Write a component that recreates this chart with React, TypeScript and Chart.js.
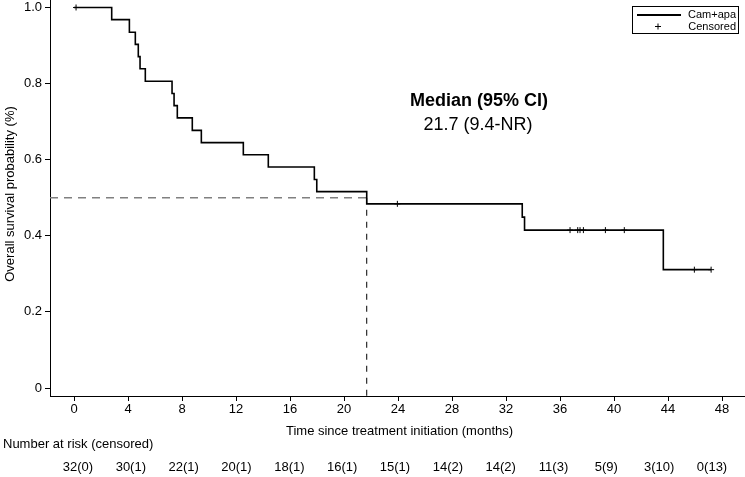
import { useEffect, useRef } from "react";
import { Chart, registerables } from "chart.js";

Chart.register(...registerables);

// ---- Data ----
const stepTimes = [0, 2.79, 4.1, 4.54, 4.76, 4.89, 5.28, 7.26, 7.41, 7.65, 8.76, 9.43, 12.54, 14.39, 17.8, 17.98, 21.68, 33.2, 33.37, 43.65, 47.19];
const stepSurvival = [1, 0.968, 0.935, 0.903, 0.871, 0.839, 0.806, 0.774, 0.742, 0.71, 0.677, 0.645, 0.613, 0.581, 0.548, 0.516, 0.484, 0.449, 0.415, 0.311, 0.311];
const censorTimes = [0.15, 23.95, 36.74, 37.31, 37.48, 37.73, 39.36, 40.76, 45.95, 47.19];
const censorSurvival = [1, 0.484, 0.415, 0.415, 0.415, 0.415, 0.415, 0.415, 0.311, 0.311];
const xTicks = [0, 4, 8, 12, 16, 20, 24, 28, 32, 36, 40, 44, 48];
const yTicks = [0, 0.2, 0.4, 0.6, 0.8, 1.0];
const riskLabels = ["32(0)", "30(1)", "22(1)", "20(1)", "18(1)", "16(1)", "15(1)", "14(2)", "14(2)", "11(3)", "5(9)", "3(10)", "0(13)"];
const medianTime = 21.68;
const medianLevel = 0.5;
const seriesName = "Cam+apa";
const censorName = "Censored";
const medianTitle = "Median (95% CI)";
const medianValue = "21.7 (9.4-NR)";
const xTitle = "Time since treatment initiation (months)";
const yTitle = "Overall survival probability (%)";
const riskTitle = "Number at risk (censored)";

const FONT = "'Liberation Sans', Arial, Helvetica, sans-serif";
const W = 745;
const H = 477;

const overlay = {
  id: "overlay",
  beforeDatasetsDraw(chart: any) {
    const { ctx, chartArea, scales } = chart;
    const x = scales.x;
    const y = scales.y;
    const mx = x.getPixelForValue(medianTime);
    const my = y.getPixelForValue(medianLevel);
    ctx.save();
    ctx.setLineDash([8, 6]);
    ctx.strokeStyle = "#808080";
    ctx.lineWidth = 1.5;
    ctx.beginPath();
    ctx.moveTo(chartArea.left, my);
    ctx.lineTo(mx, my);
    ctx.stroke();
    ctx.setLineDash([6, 6]);
    ctx.strokeStyle = "#000";
    ctx.lineWidth = 1;
    ctx.beginPath();
    ctx.moveTo(mx, my);
    ctx.lineTo(mx, chartArea.bottom);
    ctx.stroke();
    ctx.restore();
  },
  afterDraw(chart: any) {
    const { ctx, chartArea, scales } = chart;
    const x = scales.x;
    ctx.save();
    ctx.fillStyle = "#000";
    // median annotation
    ctx.textAlign = "center";
    ctx.textBaseline = "middle";
    ctx.font = `bold 18px ${FONT}`;
    ctx.fillText(medianTitle, 479, 101);
    ctx.font = `18px ${FONT}`;
    ctx.fillText(medianValue, 478, 125);

    // axis titles
    ctx.font = `13px ${FONT}`;
    ctx.fillText(xTitle, (chartArea.left + chartArea.right) / 2 + 2, 431);
    ctx.save();
    ctx.translate(10, 194);
    ctx.rotate(-Math.PI / 2);
    ctx.fillText(yTitle, 0, 0);
    ctx.restore();

    // number at risk
    ctx.textAlign = "left";
    ctx.fillText(riskTitle, 3, 444);
    ctx.textAlign = "center";
    const p0 = x.getPixelForValue(xTicks[0]);
    riskLabels.forEach((lab, i) => {
      const px = x.getPixelForValue(xTicks[i]);
      const cx = 78 + (px - p0) * (634 / 648);
      ctx.fillText(lab, cx, 467);
    });

    // legend
    ctx.fillStyle = "#fff";
    ctx.fillRect(632.5, 6.5, 106, 27);
    ctx.strokeStyle = "#000";
    ctx.lineWidth = 1;
    ctx.strokeRect(632.5, 6.5, 106, 27);
    ctx.lineWidth = 2;
    ctx.beginPath();
    ctx.moveTo(637, 15);
    ctx.lineTo(681, 15);
    ctx.stroke();
    ctx.lineWidth = 1;
    ctx.beginPath();
    ctx.moveTo(655, 26.5);
    ctx.lineTo(661, 26.5);
    ctx.moveTo(658, 23.5);
    ctx.lineTo(658, 29.5);
    ctx.stroke();
    ctx.fillStyle = "#000";
    ctx.font = `11px ${FONT}`;
    ctx.textAlign = "right";
    ctx.textBaseline = "middle";
    ctx.fillText(seriesName, 736, 15);
    ctx.fillText(censorName, 736, 27);
    ctx.restore();
  },
};

export default function App() {
  const ref = useRef<HTMLCanvasElement | null>(null);
  useEffect(() => {
    document.body.style.margin = "0";
    if (!ref.current) return;
    const stepData = stepTimes.map((t, i) => ({ x: t, y: stepSurvival[i] }));
    const censorData = censorTimes.map((t, i) => ({ x: t, y: censorSurvival[i] }));
    const chart = new Chart(ref.current, {
      type: "line",
      data: {
        datasets: [
          {
            label: seriesName,
            data: stepData,
            stepped: true,
            borderColor: "#000",
            borderWidth: 1.6,
            pointRadius: 0,
            pointHoverRadius: 0,
            fill: false,
          },
          {
            label: censorName,
            data: censorData,
            showLine: false,
            pointStyle: "cross",
            pointRadius: 3,
            pointHoverRadius: 3,
            pointBorderWidth: 1,
            pointBorderColor: "#000",
            borderColor: "#000",
          },
        ],
      },
      options: {
        responsive: false,
        animation: false,
        devicePixelRatio: 1,
        layout: { padding: 0, autoPadding: false },
        plugins: { legend: { display: false }, tooltip: { enabled: false } },
        scales: {
          x: {
            type: "linear",
            min: -1.78,
            max: 49.7,
            afterBuildTicks: (s: any) => {
              s.ticks = xTicks.map((v) => ({ value: v }));
            },
            afterFit: (s: any) => {
              s.height = H - 396;
              s.paddingLeft = 0;
              s.paddingRight = 0;
            },
            grid: { drawOnChartArea: false, drawTicks: true, tickLength: 5, tickColor: "#000" },
            border: { color: "#000", width: 1 },
            ticks: { color: "#000", font: { family: FONT, size: 13 }, padding: 1, maxRotation: 0, autoSkip: false },
          },
          y: {
            type: "linear",
            min: -0.021,
            max: 1.0197,
            afterBuildTicks: (s: any) => {
              s.ticks = yTicks.map((v) => ({ value: v }));
            },
            afterFit: (s: any) => {
              s.width = 50;
              s.paddingTop = 0;
              s.paddingBottom = 0;
            },
            grid: { drawOnChartArea: false, drawTicks: true, tickLength: 5, tickColor: "#000" },
            border: { color: "#000", width: 1 },
            ticks: {
              color: "#000",
              font: { family: FONT, size: 13 },
              padding: 3,
              autoSkip: false,
              callback: (v: any) => (Number(v) === 0 ? "0" : Number(v).toFixed(1)),
            },
          },
        },
      },
      plugins: [overlay],
    } as any);
    return () => chart.destroy();
  }, []);
  return (
    <div style={{ width: W, height: H }}>
      <canvas ref={ref} width={W} height={H} style={{ display: "block" }} />
    </div>
  );
}
